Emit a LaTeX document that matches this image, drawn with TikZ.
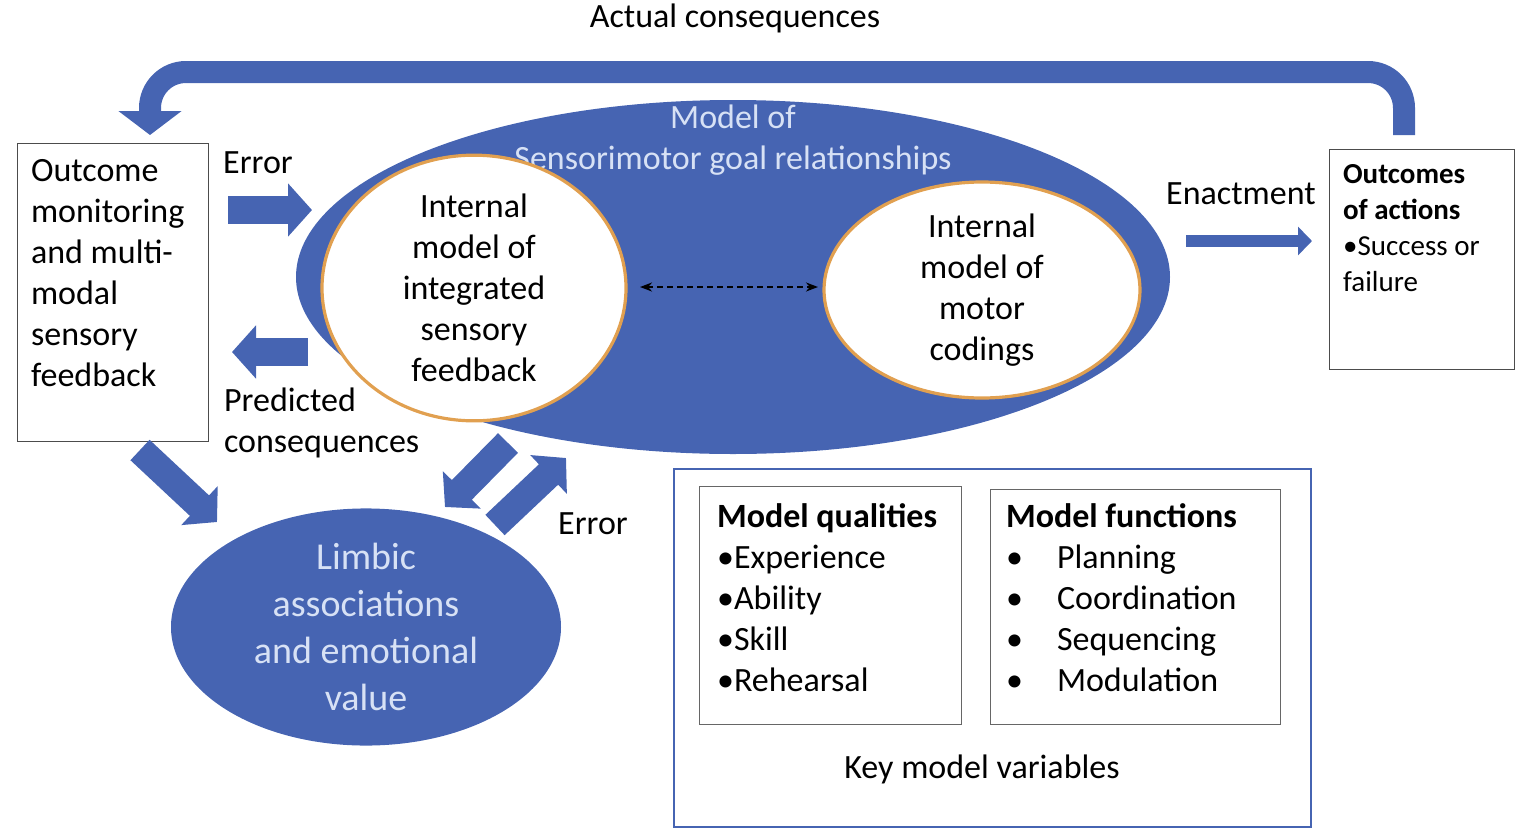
\documentclass[tikz,border=0pt]{standalone}
\usepackage{fontspec}
\setmainfont{Carlito}
\usetikzlibrary{arrows.meta,shapes.geometric}
\definecolor{bl}{RGB}{70,100,178}
\definecolor{lt}{RGB}{215,225,245}
\definecolor{org}{RGB}{225,160,80}
\begin{document}
\begin{tikzpicture}[x=0.5pt,y=-0.5pt,
  box/.style={draw=black!70,line width=0.6pt,fill=white},
  fs/.style={font=\fontsize{17pt}{20.5pt}\selectfont},
  barr/.style={draw=bl,line width=14pt,-{Triangle[width=26pt,length=12pt]}},
  sarr/.style={draw=bl,line width=6pt,-{Triangle[width=14pt,length=7pt]}},
  inner/.style={ellipse,draw=org,line width=1.6pt,fill=white,fs,align=center,inner sep=0pt}]
\useasboundingbox (0,0) rectangle (1538,831);
% top arrow
\coordinate (tr) at (1404,135);
\coordinate (tl) at (150,135);
\draw[draw=bl,line width=11pt,rounded corners=18pt,-{Triangle[width=31pt,length=12pt]}] (tr) -- (1404,72) -- (150,72) -- (tl);
\node[fs] (actual) at (735,18) {Actual consequences};
% big ellipse
\node[ellipse,fill=bl,minimum width=437pt,minimum height=177pt,inner sep=0pt] (big) at (733,277) {};
\node[fs,text=lt,align=center] (bigt) at (733,140) {Model of\\Sensorimotor goal relationships};
\node[inner,minimum width=152pt,minimum height=110pt] (isf) at (474,288) {Internal\\model of\\integrated\\sensory\\feedback};
\node[inner,minimum width=158pt,minimum height=108pt] (imc) at (982,290) {Internal\\model of\\motor\\codings};
\coordinate (d1) at (640,287); \coordinate (d2) at (818,287);
\draw[densely dashed,line width=1.2pt,{Stealth[length=6pt]}-{Stealth[length=6pt]}] (d1) -- (d2);
% left box
\node[box,minimum width=95.5pt,minimum height=149pt,anchor=north west] (left) at (17,143) {};
\node[fs,align=left,anchor=north west] (leftt) at (24,152) {Outcome\\monitoring\\and multi-\\modal\\sensory\\feedback};
% right box
\node[box,minimum width=92.5pt,minimum height=110pt,anchor=north west] (right) at (1329,149) {};
\node[font=\fontsize{14.5pt}{18pt}\selectfont,align=left,anchor=north west] (rightt) at (1336,157) {\textbf{Outcomes}\\\textbf{of actions}\\\textbullet Success or\\failure};
% limbic
\node[ellipse,fill=bl,minimum width=195pt,minimum height=113pt,inner sep=0pt,text=lt,align=center,font=\fontsize{19pt}{23.5pt}\selectfont] (limbic) at (366,627) {Limbic\\associations\\and emotional\\value};
% arrows
\coordinate (e1) at (228,210); \coordinate (e2) at (312,210);
\draw[barr] (e1) -- (e2);
\node[fs] (errl) at (258,163) {Error};
\coordinate (p1) at (308,352); \coordinate (p2) at (232,352);
\draw[barr] (p1) -- (p2);
\node[fs,align=left,anchor=north west] (pred) at (217,381) {Predicted\\consequences};
\coordinate (n1) at (1186,241); \coordinate (n2) at (1312,241);
\draw[sarr] (n1) -- (n2);
\node[fs] (enact) at (1241,194) {Enactment};
\coordinate (g1) at (140,450); \coordinate (g2) at (217,522);
\draw[barr] (g1) -- (g2);
\coordinate (a1) at (508,443); \coordinate (a2) at (445,507);
\draw[barr] (a1) -- (a2);
\coordinate (b1) at (495,525); \coordinate (b2) at (566,458);
\draw[barr] (b1) -- (b2);
\node[fs] (err2) at (593,524) {Error};
% key box
\node[draw=bl,line width=1.2pt,minimum width=318.5pt,minimum height=179pt,anchor=north west] (key) at (673,468) {};
\node[draw=black!60,line width=0.6pt,minimum width=131pt,minimum height=119pt,anchor=north west] (qual) at (699,486) {};
\node[draw=black!60,line width=0.6pt,minimum width=145pt,minimum height=117.5pt,anchor=north west] (func) at (990,489) {};
\node[fs,align=left,anchor=north west] (qualt) at (710,497) {\textbf{Model qualities}\\\textbullet Experience\\\textbullet Ability\\\textbullet Skill\\\textbullet Rehearsal};
\node[fs,align=left,anchor=north west] (funct) at (999,497) {\textbf{Model functions}\\\textbullet\hspace{17pt}Planning\\\textbullet\hspace{17pt}Coordination\\\textbullet\hspace{17pt}Sequencing\\\textbullet\hspace{17pt}Modulation};
\node[fs] (keyt) at (982,769) {Key model variables};
\end{tikzpicture}
\end{document}
